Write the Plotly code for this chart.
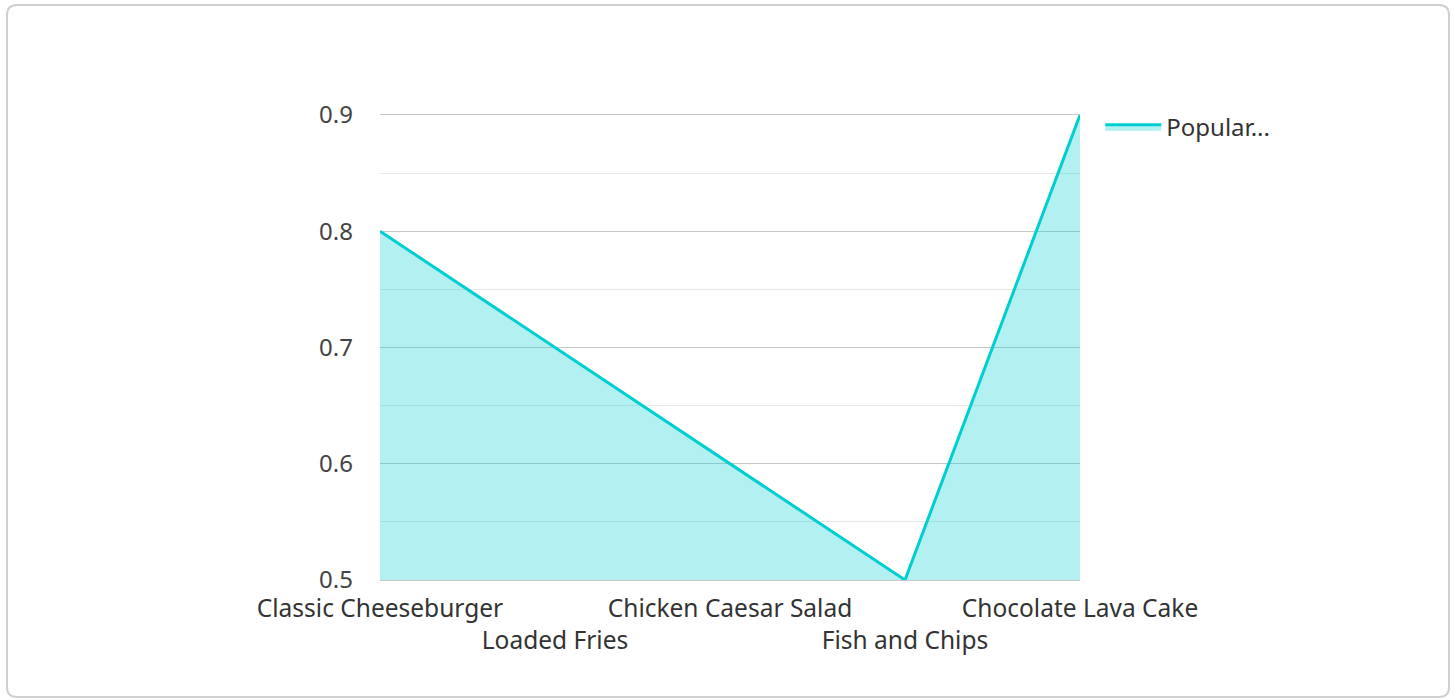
import plotly.graph_objects as go

categories = ["Classic Cheeseburger", "Loaded Fries", "Chicken Caesar Salad", "Fish and Chips", "Chocolate Lava Cake"]
popularity = [0.8, 0.7, 0.6, 0.5, 0.9]
series_name = "Popular..."
y_ticks = [0.5, 0.6, 0.7, 0.8, 0.9]

tick_text = [c if i % 2 == 0 else "<br>" + c for i, c in enumerate(categories)]

fig = go.Figure()
fig.add_trace(go.Scatter(
    x=categories, y=popularity, name=series_name, mode="lines",
    line=dict(color="#00CED1", width=3),
    fill="tozeroy", fillcolor="rgba(0,206,209,0.3)",
))

W, H = 1456, 700
L, R, T, B = 380, 376, 115, 120

fig.update_layout(
    width=W, height=H,
    margin=dict(l=L, r=R, t=T, b=B),
    paper_bgcolor="white", plot_bgcolor="white",
    font=dict(family="Noto Sans", size=24, color="#444"),
    showlegend=True,
    legend=dict(x=1.029, y=1.022, xanchor="left", yanchor="top", itemwidth=56,
                font=dict(size=24, color="#333"), bgcolor="rgba(0,0,0,0)"),
    xaxis=dict(type="category", categoryorder="array", categoryarray=categories,
               range=[0, len(categories) - 1], tickvals=categories, ticktext=tick_text,
               showgrid=False, zeroline=False, showline=True, mirror=True,
               linecolor="#c8c8c8", linewidth=1, ticks="",
               tickfont=dict(size=24.5, color="#333"), tickangle=0, ticklabelstandoff=7),
    yaxis=dict(range=[0.5, 0.9], tickvals=y_ticks, tickformat=".1f",
               showgrid=True, gridcolor="#c8c8c8", gridwidth=1,
               zeroline=False, showline=False, ticks="",
               tickfont=dict(size=24, color="#444"), ticklabelstandoff=26,
               minor=dict(dtick=0.05, showgrid=True, gridcolor="#e8e8e8", gridwidth=1)),
)

# Card border (pixel-sized, anchored at plot bottom-left)
x0, x1 = 7 - L, 1449 - L
y0, y1 = -(697 - (H - B)), (H - B) - 5
r = 10
path = (f"M {x0+r},{y0} L {x1-r},{y0} Q {x1},{y0} {x1},{y0+r} L {x1},{y1-r} "
        f"Q {x1},{y1} {x1-r},{y1} L {x0+r},{y1} Q {x0},{y1} {x0},{y1-r} "
        f"L {x0},{y0+r} Q {x0},{y0} {x0+r},{y0} Z")
fig.add_shape(type="path", xref="paper", yref="paper", xsizemode="pixel", ysizemode="pixel",
              xanchor=0, yanchor=0, path=path, line=dict(color="#d0d0d0", width=2),
              fillcolor="rgba(0,0,0,0)", layer="below")

fig.write_html("out.html")
